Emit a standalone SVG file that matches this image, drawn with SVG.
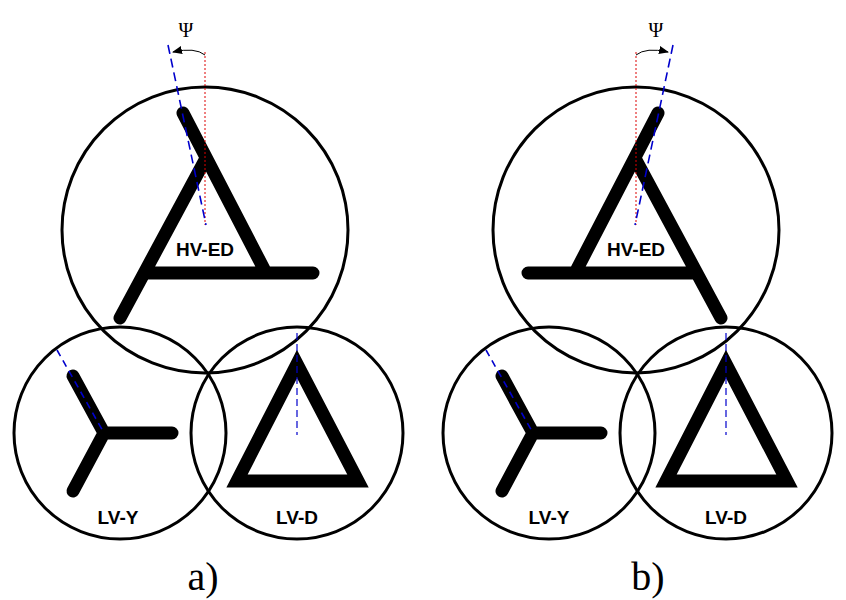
<svg xmlns="http://www.w3.org/2000/svg" width="846" height="600" viewBox="0 0 846 600">
<style>
.c{fill:none;stroke:#000;stroke-width:3}
.w{fill:none;stroke:#000;stroke-width:13;stroke-linecap:round;stroke-linejoin:miter}
.b{fill:none;stroke:#00c;stroke-width:1.6;stroke-dasharray:9,5}
.r{fill:none;stroke:#d00;stroke-width:1;stroke-dasharray:2,2}
.l{font-family:"Liberation Sans",Arial,sans-serif;font-weight:bold;font-size:19px;text-anchor:middle}
.s{font-family:"Liberation Serif","Times New Roman",serif;font-size:40px;text-anchor:middle}
.p{font-family:"Liberation Serif","Times New Roman",serif;font-size:20px;text-anchor:middle}
</style>
<defs>
<marker id="ah" markerWidth="10" markerHeight="8" refX="9" refY="4" orient="auto" markerUnits="userSpaceOnUse"><path d="M0,0 L10,4 L0,8 Z" fill="#000"/></marker>
<g id="hv">
<circle class="c" cx="205" cy="230" r="143"/>
<path class="w" d="M183,113 L266,273 M205,160 L120,318 M148,273 L313,273"/>
<line class="r" x1="205" y1="52" x2="205" y2="225"/>
<line class="b" x1="168" y1="45" x2="206" y2="225"/>
<path d="M205,55 Q195,47 173,52" fill="none" stroke="#000" stroke-width="1" marker-end="url(#ah)"/>
</g>
<g id="ly">
<circle class="c" cx="0" cy="0" r="106"/>
<path class="w" d="M-47,-57 L-16,0 L52,0 M-16,0 L-47,58" style="stroke-linejoin:round"/>
<line class="b" x1="-63" y1="-83" x2="-16" y2="0" style="stroke-dasharray:7,5"/>
</g>
<g id="ld">
<circle class="c" cx="0" cy="0" r="106"/>
<path class="w" d="M0,-69 L-60,48 L61,48 Z"/>
<line class="b" x1="0" y1="-100" x2="0" y2="2" style="stroke-width:1.2;stroke-dasharray:7,4"/>
</g>
</defs>
<g id="a">
<g id="hv-a"><use href="#hv"/><text class="l" x="205" y="256">HV-ED</text><text class="p" x="186" y="37">Ψ</text></g>
<g id="ly-a"><use href="#ly" x="120" y="433"/><text class="l" x="118" y="524">LV-Y</text></g>
<g id="ld-a"><use href="#ld" x="297" y="433"/><text class="l" x="297" y="524">LV-D</text></g>
<text class="s" x="203" y="590">a)</text>
</g>
<g id="b">
<g id="hv-b"><use href="#hv" transform="translate(841,0) scale(-1,1)"/><text class="l" x="636" y="256">HV-ED</text><text class="p" x="656" y="37">Ψ</text></g>
<g id="ly-b"><use href="#ly" x="549" y="433"/><text class="l" x="549" y="524">LV-Y</text></g>
<g id="ld-b"><use href="#ld" x="726" y="433"/><text class="l" x="726" y="524">LV-D</text></g>
<text class="s" x="648" y="590">b)</text>
</g>
</svg>
